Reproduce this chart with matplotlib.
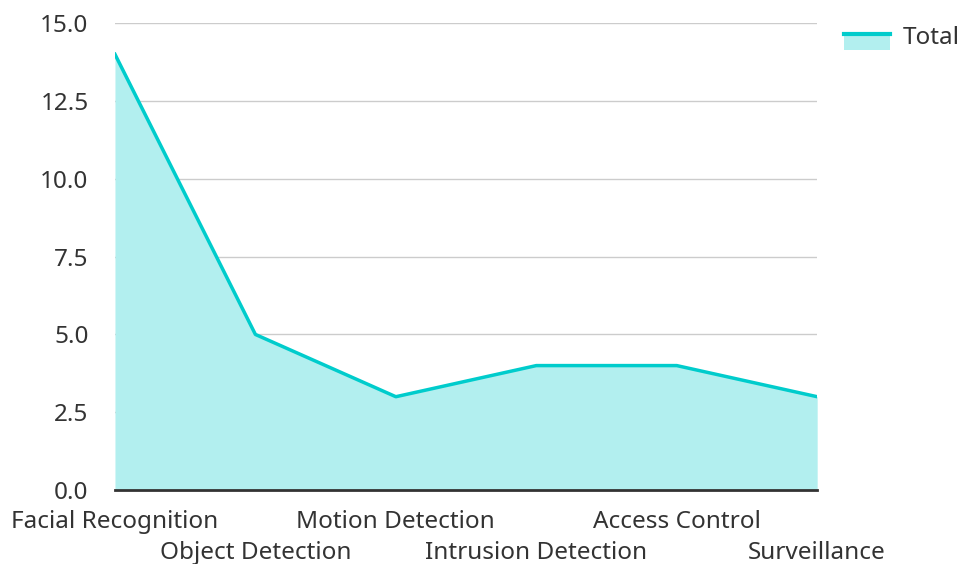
import matplotlib
matplotlib.use('Agg')
import matplotlib.pyplot as plt
from matplotlib.legend_handler import HandlerBase
from matplotlib.patches import Rectangle
from matplotlib.lines import Line2D

categories = ['Facial Recognition', 'Object Detection', 'Motion Detection',
              'Intrusion Detection', 'Access Control', 'Surveillance']
totals = [14, 5, 3, 4, 4, 3]
yticks = [0.0, 2.5, 5.0, 7.5, 10.0, 12.5, 15.0]

LINE = '#00cccc'
FILL = '#b2efef'
TXT = '#333333'

plt.rcParams['font.family'] = ['Noto Sans', 'DejaVu Sans']


class AreaHandler(HandlerBase):
    # filled patch with a line along its top edge
    def create_artists(self, legend, orig, xd, yd, w, h, fontsize, trans):
        top = yd + h * 0.6
        bot = yd - h * 0.35
        r = Rectangle((xd, bot), w, top - bot,
                      facecolor=FILL, edgecolor='none', transform=trans)
        l = Line2D([xd, xd + w], [top, top], color=LINE, lw=3, transform=trans)
        return [r, l]


fig = plt.figure(figsize=(9.58, 5.64), dpi=100)
ax = fig.add_axes([0.12, 0.131, 0.733, 0.828])

x = list(range(len(categories)))
ax.fill_between(x, totals, 0, color=FILL, lw=0, zorder=2)
ax.plot(x, totals, color=LINE, lw=2.5, zorder=3, label='Total')

ax.set_xlim(0, len(categories) - 1)
ax.set_ylim(0, 15)
ax.set_yticks(yticks)
ax.set_yticklabels([f'{v:.1f}' for v in yticks])
ax.grid(axis='y', color='#cccccc', lw=1, zorder=1)
ax.set_axisbelow(True)

for s in ['top', 'right', 'left']:
    ax.spines[s].set_visible(False)
ax.spines['bottom'].set_color(TXT)
ax.spines['bottom'].set_linewidth(2)
ax.spines['bottom'].set_zorder(4)

ax.tick_params(axis='y', length=0, pad=19, labelsize=17.5, labelcolor=TXT)
ax.tick_params(axis='x', length=0, pad=3, labelsize=17.5, labelcolor=TXT)
ax.set_xticks(x)
ax.set_xticklabels(categories)
for i, t in enumerate(ax.get_xticklabels()):
    t.set_y(-0.033 if i % 2 == 0 else -0.099)

leg = ax.legend(handler_map={Line2D: AreaHandler()}, loc='upper left',
                bbox_to_anchor=(1.007, 1.041), frameon=False, fontsize=17.5,
                handlelength=1.9, handletextpad=0.5)
for t in leg.get_texts():
    t.set_color(TXT)

fig.savefig('out.png', dpi=100)
